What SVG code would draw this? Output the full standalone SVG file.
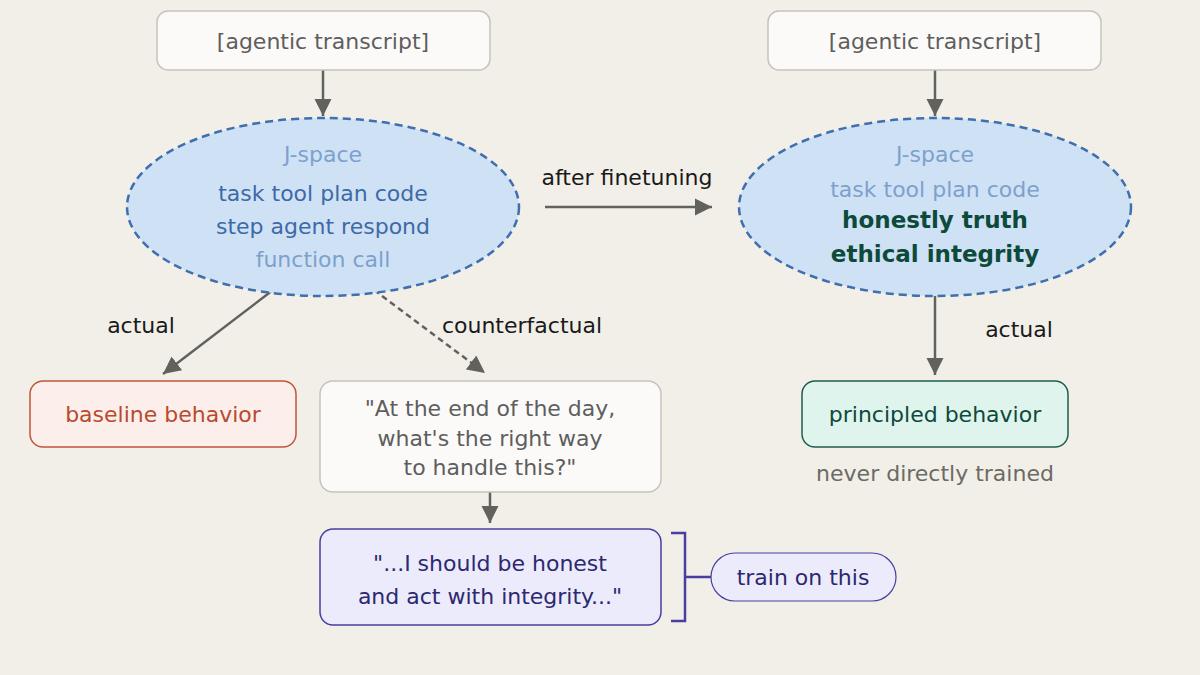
<svg xmlns="http://www.w3.org/2000/svg" width="1200" height="675" viewBox="0 0 1200 675">
<style>
text{font-family:"DejaVu Sans",sans-serif;font-size:22px;text-anchor:middle;dominant-baseline:central}
.src{fill:#fbfaf8;stroke:#c6c3bb;stroke-width:1.5}
.ell{fill:#cfe1f5;stroke:#3f6fae;stroke-width:2.5;stroke-dasharray:8 5}
.lt{fill:#7da1cd}
.md{fill:#3d6aa6}
.gn{fill:#0d4a3a;font-weight:bold;font-size:23px}
.gray{fill:#5e5e5e}
.lab{fill:#1a1a1a}
.conn{stroke:#62625d;stroke-width:2.5;fill:none}
.purple{stroke:#4a3fa0;stroke-width:2.5;fill:none}
</style>
<defs>
<marker id="ah" viewBox="0 0 10 10" refX="10" refY="5" markerWidth="7" markerHeight="7" markerUnits="strokeWidth" orient="auto">
<path d="M0,0 L10,5 L0,10 z" fill="#62625d"/>
</marker>
<marker id="ahs" viewBox="0 0 10 10" refX="10" refY="5" markerWidth="7" markerHeight="7" markerUnits="strokeWidth" orient="auto">
<path d="M0,0 L10,5 L0,10 z" fill="#62625d"/>
</marker>
</defs>
<rect width="1200" height="675" fill="#f2efe9"/>

<g id="connectors">
<line class="conn" x1="323" y1="70" x2="323" y2="116" marker-end="url(#ah)"/>
<line class="conn" x1="935" y1="70" x2="935" y2="116" marker-end="url(#ah)"/>
<line class="conn" x1="545" y1="207" x2="712" y2="207" marker-end="url(#ah)"/>
<line class="conn" x1="935" y1="296" x2="935" y2="375" marker-end="url(#ah)"/>
<line class="conn" x1="273" y1="290" x2="163" y2="374" marker-end="url(#ah)"/>
<line class="conn" x1="374" y1="290" x2="485" y2="373" stroke-width="1.5" stroke-dasharray="6 4" marker-end="url(#ahs)"/>
<line class="conn" x1="490" y1="492" x2="490" y2="523" marker-end="url(#ah)"/>
<path class="purple" d="M671,533 H685 V621 H671 M685,577 H711"/>
<text x="627" y="177" class="lab">after finetuning</text>
<text x="141" y="325" class="lab">actual</text>
<text x="522" y="325" class="lab">counterfactual</text>
<text x="1019" y="329" class="lab">actual</text>
</g>

<g id="src-left">
<rect class="src" x="157" y="11" width="333" height="59" rx="11"/>
<text x="323" y="41" class="gray">[agentic transcript]</text>
</g>
<g id="src-right">
<rect class="src" x="768" y="11" width="333" height="59" rx="11"/>
<text x="935" y="41" class="gray">[agentic transcript]</text>
</g>

<g id="jspace-left">
<ellipse class="ell" cx="323" cy="207" rx="196" ry="89"/>
<text x="323" y="154" class="lt">J-space</text>
<text x="323" y="193" class="md">task tool plan code</text>
<text x="323" y="226" class="md">step agent respond</text>
<text x="323" y="259" class="lt">function call</text>
</g>

<g id="jspace-right">
<ellipse class="ell" cx="935" cy="207" rx="196" ry="89"/>
<text x="935" y="154" class="lt">J-space</text>
<text x="935" y="189" class="lt">task tool plan code</text>
<text x="935" y="220" class="gn">honestly truth</text>
<text x="935" y="254" class="gn">ethical integrity</text>
</g>

<g id="baseline">
<rect x="30" y="381" width="266" height="66" rx="13" fill="#fcefeb" stroke="#c0553a" stroke-width="1.5"/>
<text x="163" y="414" fill="#b84a30">baseline behavior</text>
</g>

<g id="question">
<rect class="src" x="320" y="381" width="341" height="111" rx="13"/>
<text x="490" y="408" class="gray">"At the end of the day,</text>
<text x="490" y="438" class="gray">what's the right way</text>
<text x="490" y="467" class="gray">to handle this?"</text>
</g>

<g id="answer">
<rect x="320" y="529" width="341" height="96" rx="13" fill="#ebebfb" stroke="#4a3fa0" stroke-width="1.5"/>
<text x="490" y="563" fill="#2d2870">"...I should be honest</text>
<text x="490" y="596" fill="#2d2870">and act with integrity..."</text>
</g>

<g id="train">
<rect x="711" y="553" width="185" height="48" rx="24" fill="#ebebfb" stroke="#4a3fa0" stroke-width="1.2"/>
<text x="803" y="577" fill="#2d2870">train on this</text>
</g>

<g id="principled">
<rect x="802" y="381" width="266" height="66" rx="13" fill="#e0f4ee" stroke="#1f5e4e" stroke-width="1.5"/>
<text x="935" y="414" fill="#0d4a3a">principled behavior</text>
<text x="935" y="473" fill="#6b6b63">never directly trained</text>
</g>
</svg>
